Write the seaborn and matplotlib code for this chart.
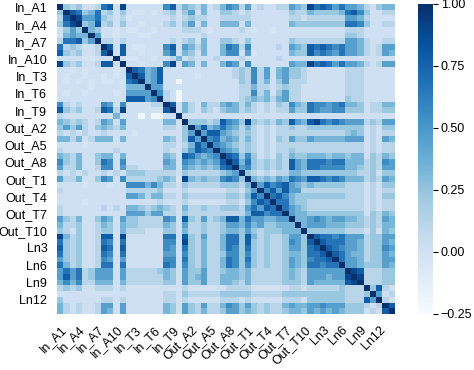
import numpy as np
import pandas as pd
import matplotlib
matplotlib.use("Agg")
import matplotlib.pyplot as plt
import seaborn as sns

plt.rcParams['font.family'] = ['Liberation Sans', 'DejaVu Sans']

# Variable names (categories)
in_a = ["In_A%d" % i for i in range(1, 11)]
in_t = ["In_T%d" % i for i in range(1, 11)]
out_a = ["Out_A%d" % i for i in range(1, 11)]
out_t = ["Out_T%d" % i for i in range(1, 11)]
ln = ["Ln%d" % i for i in range(1, 15)]
names = in_a + in_t + out_a + out_t + ln

# Colour level of each cell -> correlation value
level_values = {'w': -0.20, '.': -0.04, '1': 0.01, '2': 0.12, '3': 0.23,
                '4': 0.34, '5': 0.45, '6': 0.56, '7': 0.67, '8': 0.78,
                '9': 0.89, 'X': 1.0}

# Lower triangle (row i holds columns 0..i); spaces only separate groups
tril_rows = [
    "X",
    "3X",
    "28X",
    "379X",
    "1353X",
    "14544X",
    "277835X",
    "7232112X",
    "83231128X",
    "1111..111X",
    "9323112881X",
    "11.1.1111.1 X",
    "1.11.11.1.1 8X",
    "1.1.1.1..1. 78X",
    "11111.11111 444X",
    "1.11.1111.1 5555X",
    "11111111111 88856X",
    "62121116516 111122X",
    "83231128729 111111 8X",
    "21111111141 11w1ww 11X",
    "43232125415 111111 441 X",
    "35352134324 111111 221 3X",
    "21212112111 1.1111 111 35X",
    "44241244414 111111 431 385X",
    "1111.111111 111111 221 2486X",
    "21111111121 111111 211 35876X",
    "43241134414 111111 431 875456X",
    "63241137616 111111 541 6545458X",
    "52241126615 221111 441 54343478X",
    "21212112121 333222 221 322222345X",
    "52241136516 222223 43. 9434336763 X",
    "1111.111.11 666464 221 3222223332 4X",
    "21111111111 222223 111 2111111221 35X",
    "11111111111 554244 221 3222222332 486X",
    "1111.111111 111112 111 2111111221 3687X",
    "21111112121 443234 321 4223223332 57587X",
    "21111111111 555355 221 3222222222 488677X",
    "53241135415 332222 651 8325234884 7554455X",
    "42231124314 332222 431 5223223554 64533444X",
    "32131123314 222111 331 4223223443 532333444X",
    "94231128819 111111 771 8325224773 8423223553 X",
    "73231127617 111111 661 9324224773 8323223653 8X",
    "83231128718 111111 651 7324224763 7323223553 78X",
    "73231127617 111111 551 6324223663 6323223443 778X",
    "53231126515 111111 661 7324224763 7323223543 6778X",
    "74231127717 111111 761 6324224763 6323223543 77677X",
    "57572355515 222223 431 5335223443 4222223432 555555 X",
    "58572355515 222222 431 5345224443 4222223432 555455 9X",
    "46462244414 222222 331 5335224432 4222223332 544444 89X",
    "23231122212 111111 111 2111111222 2111111221 222223 222 X",
    "11111111111 111111 221 3222223333 3222223333 333333 222 3X",
    "31111112212 111111 221 2111112221 2111112221 333333 222 85X",
    "42121125515 111111 431 5325224653 5323224544 556555 333 212X",
    "42121125415 111111 431 5324223553 4323223443 545454 333 121 8X",
]

n = len(names)
mat = np.zeros((n, n))
for i, row in enumerate(tril_rows):
    row = row.replace(" ", "")
    row = row[:i].ljust(i, '1') + 'X'
    for j, ch in enumerate(row):
        v = level_values[ch]
        mat[i, j] = v
        mat[j, i] = v

df = pd.DataFrame(mat, index=names, columns=names)

fig = plt.figure(figsize=(4.74, 3.70), dpi=100)
ax = fig.add_axes([57 / 474, 56 / 370, 338 / 474, 310 / 370])
cax = fig.add_axes([418 / 474, 56 / 370, 15 / 474, 310 / 370])

sns.heatmap(df, ax=ax, cbar_ax=cax, cmap="Blues", vmin=-0.25, vmax=1.0,
            xticklabels=False, yticklabels=False)

tick_pos = np.arange(0, n, 3)
ax.set_xticks(tick_pos + 0.5)
ax.set_xticklabels([names[k] for k in tick_pos], rotation=45, ha='right',
                   rotation_mode='anchor', fontsize=9)
ax.set_yticks(tick_pos + 0.5)
ax.set_yticklabels([names[k] for k in tick_pos], rotation=0, fontsize=9)
ax.tick_params(length=0, pad=7)

cax.set_yticks([-0.25, 0.0, 0.25, 0.5, 0.75, 1.0])
cax.set_yticklabels(["\u22120.25", "0.00", "0.25", "0.50", "0.75", "1.00"])
cax.tick_params(labelsize=9, length=3.5, pad=2)

fig.savefig("out.png", dpi=100)
